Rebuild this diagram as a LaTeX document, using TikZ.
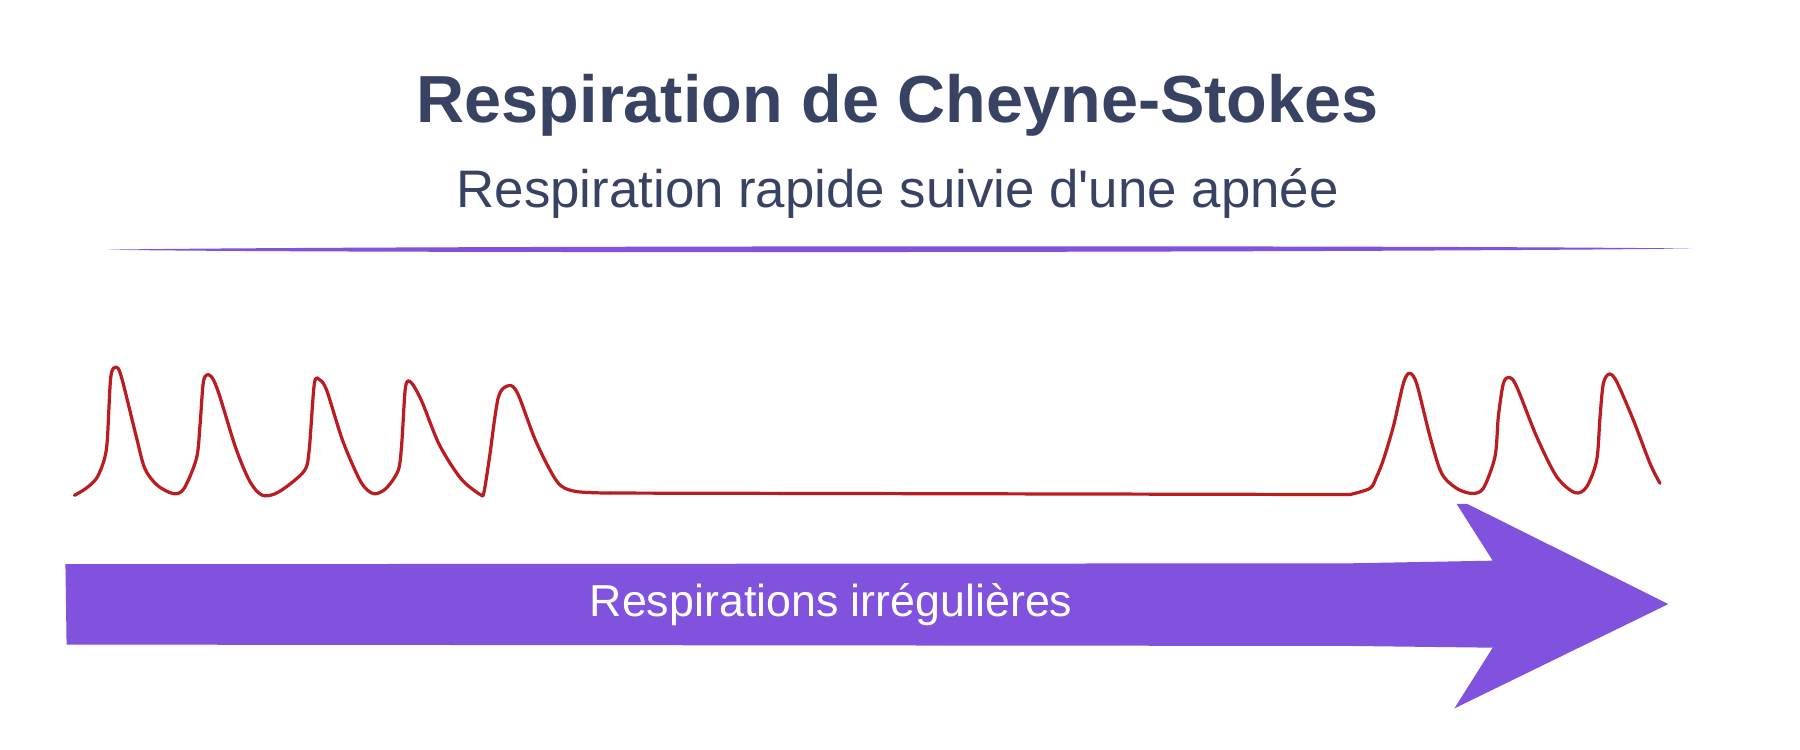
\documentclass[tikz,border=0pt]{standalone}
\usepackage{fontspec}
\setmainfont{Liberation Sans}
\definecolor{titlecol}{RGB}{56,66,99}
\definecolor{purp}{RGB}{128,82,222}
\definecolor{wave}{RGB}{186,28,32}
\tikzset{
  titletext/.style={text=titlecol, inner sep=0pt, anchor=base},
  wavecurve/.style={draw=wave, line width=2.8pt, line cap=round, line join=round},
}
\begin{document}
\begin{tikzpicture}[x=1pt,y=-1pt]
\useasboundingbox[fill=white] (0,0) rectangle (1568,653);
% title and subtitle
\node[titletext, font=\fontsize{58}{70}\selectfont\bfseries] (title) at (782,107) {Respiration de Cheyne-Stokes};
\node[titletext, font=\fontsize{46}{56}\selectfont] (subtitle) at (782,181) {Respiration rapide suivie d\textquotesingle une apnée};
% rule
\coordinate (ruleL) at (93,217.5);
\coordinate (ruleR) at (1473,216.5);
\fill[purp] (ruleL) .. controls (300,214.3) and (1200,213.3) .. (ruleR)
  .. controls (1200,219.9) and (300,220.9) .. (ruleL) -- cycle;
% waveform
\draw[wavecurve] plot[smooth, tension=0.5] coordinates {
 (64.8,431.5) (74.7,425.6) (84.0,416.8) (90.3,402.1) (93.4,384.4) (96.5,328.5)
 (101.2,319.7) (105.8,328.5) (118.3,378.6) (126.1,408) (137,422.7) (151,430)
 (160.3,425.6) (171.2,399.1) (174.3,369.7) (177.4,331.5) (183,327.1) (189.8,340.3)
 (205.4,390.3) (217.8,419.7) (228.7,431.5) (242.7,428.6) (264.5,410.9) (269.2,393.3)
 (273.8,334.4) (278.5,330.9) (284.7,340.3) (298.7,384.4) (314.3,419.7) (325.2,430)
 (336.1,425.6) (347,409.4) (350.1,384.4) (353.2,337.4) (357.9,333) (367.2,349.1)
 (382.7,387.4) (401.4,416.8) (418.5,430.9) (421.6,428.6) (426.3,399.1) (434.1,346.2)
 (443.4,335.9) (451.2,343.3) (466.8,384.4) (485.4,419.7) (501,428) (531.5,429.5)};
\draw[wavecurve] (531.5,429.5) -- (1176,430.8);
\draw[wavecurve] plot[smooth, tension=0.5] coordinates {
 (1176,430.8) (1193.4,425.4) (1199.2,415.2) (1205,400.7) (1213.7,371.7) (1222.5,334)
 (1227.7,325.2) (1234,334) (1245.7,380.4) (1255.8,412.3) (1268.9,425.4) (1282,429.8)
 (1292.1,425.4) (1302.3,397.8) (1305.2,363) (1309.6,334) (1314.8,328.7) (1321.2,336.8)
 (1338.6,380.4) (1356,415.2) (1372,429.2) (1382.2,424) (1390.9,400.7) (1393.8,363)
 (1396.7,334) (1401.9,325.8) (1408.3,332.5) (1422.8,365.9) (1437.3,403.6) (1446,421)};
% big arrow
\coordinate (shaftTL) at (57,491.5);
\coordinate (shaftBL) at (58,561.5);
\coordinate (notchT) at (1300.3,488.4);
\coordinate (notchB) at (1300.3,564.2);
\coordinate (backT1) at (1268.9,439);
\coordinate (backT2) at (1278.2,439);
\coordinate (tip) at (1453.3,526.2);
\coordinate (backB) at (1266.9,617.1);
\fill[purp] (shaftTL) -- (1176,490.7) -- (notchT) -- (backT1) -- (backT2) -- (tip)
  -- (backB) -- (notchB) -- (1176,562.7) -- (shaftBL) -- cycle;
\node[inner sep=0pt, text=white, font=\fontsize{39}{48}\selectfont, anchor=base] (label) at (724,537) {Respirations irrégulières};
\end{tikzpicture}
\end{document}
